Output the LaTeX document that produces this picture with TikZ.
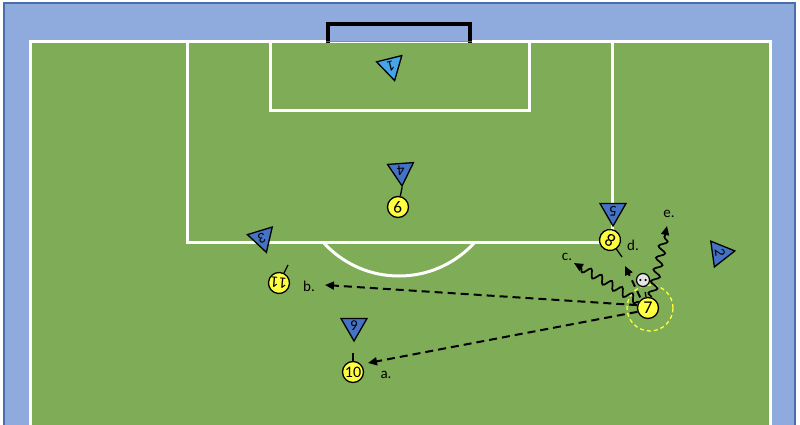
\documentclass[tikz,border=0pt]{standalone}
\usepackage{fontspec}
\setmainfont{Carlito}
\usetikzlibrary{shapes.geometric,arrows.meta,decorations.pathmorphing}
\definecolor{frameblue}{HTML}{8FAADC}
\definecolor{frameedge}{HTML}{4A6DB0}
\definecolor{pitchgreen}{HTML}{7FAC56}
\definecolor{defblue}{HTML}{4472C4}
\definecolor{keeperblue}{HTML}{45A5E6}
\definecolor{plyellow}{HTML}{FFFF40}
\begin{document}
\begin{tikzpicture}[x=1pt,y=-1pt,
  defender/.style={regular polygon, regular polygon sides=3, draw=black, line width=1.3pt, fill=defblue, minimum size=30pt, inner sep=0pt, font=\fontsize{15}{15}\selectfont},
  attacker/.style={circle, draw=black, line width=1.3pt, fill=plyellow, minimum size=21pt, inner sep=0pt, font=\fontsize{18}{18}\selectfont},
  stick/.style={line width=1.3pt},
  pass/.style={line width=2pt, dash pattern=on 8pt off 5pt, -{Triangle[length=9pt,width=8pt]}},
  dribble/.style={line width=1.7pt, decorate, decoration={snake, segment length=12pt, amplitude=4pt, post length=7pt}, -{Triangle[length=9pt,width=8pt]}},
  lbl/.style={font=\fontsize{15}{15}\selectfont, inner sep=0pt},
  pline/.style={draw=white, line width=3pt}
]
\useasboundingbox (0,0) rectangle (800,425);
% frame and pitch
\fill[white] (0,0) rectangle (800,425);
\filldraw[fill=frameblue, draw=frameedge, line width=1.5pt] (4,3) rectangle (795,440);
\fill[pitchgreen] (30,42) rectangle (770,440);
\draw[pline] (30,440) -- (30,42) -- (770,42) -- (770,440);
\draw[pline] (187,42) -- (187,242) -- (612,242) -- (612,42);
\draw[pline] (270,42) -- (270,111) -- (529,111) -- (529,42);
\begin{scope}
\clip (0,243.5) rectangle (800,425);
\draw[pline] (399,174) circle[radius=102pt];
\end{scope}
% goal
\fill[frameblue] (328,24) rectangle (470,42);
\draw[line width=4pt] (328,43) -- (328,24) -- (470,24) -- (470,43);
\draw[gray, line width=1.2pt, opacity=0.7] (326,41.5) -- (472,41.5);
% defenders
\node[defender, fill=keeperblue, rotate=-166] (t1) at (391,66) {1};
\node[defender, rotate=-176] (t4) at (401,171) {4};
\node[defender, rotate=-163] (t3) at (262,238) {3};
\node[defender, rotate=180] (t5) at (613,211) {5};
\node[defender, shape border rotate=180] (t9) at (354,326) {9};
\node[defender, rotate=-82] (t2) at (720,253) {2};
% attackers
\node[circle, draw=plyellow, line width=1.3pt, dash pattern=on 4pt off 3pt, minimum size=46pt] (ring) at (650,308) {};
\node[attacker, rotate=180] (p6) at (398,207) {9};
\node[attacker, rotate=175, font=\fontsize{16}{16}\selectfont] (p11) at (279,283) {11};
\node[attacker, font=\fontsize{16}{16}\selectfont] (p10) at (353,372) {10};
\node[attacker, rotate=150] (p8) at (610,240) {8};
\node[attacker] (p7) at (648,308) {7};
\node[circle, draw=black, line width=1.2pt, fill=gray!20, minimum size=13pt, inner sep=0pt] (ball) at (643,280) {};
\fill (ball.center) ++(-2.6,0) circle[radius=1.2pt];
\fill (ball.center) ++(2.6,0) circle[radius=1.2pt];
% sticks
\coordinate (s10) at (353,353);
\coordinate (s11) at (288,265);
\coordinate (s8) at (622,257);
\draw[stick] (p6) -- (t4.corner 1);
\draw[stick] (s10) -- (p10);
\draw[stick] (s11) -- (p11);
\draw[stick] (s8) -- (p8);
\draw[stick, shorten >=5pt] (p7) -- (ball);
% moves
\coordinate (ta) at (368,363);
\coordinate (tb) at (325,285);
\coordinate (tc) at (574,263);
\coordinate (td) at (625,266);
\coordinate (te) at (667,226);
\draw[pass] (p7.165) -- (tb);
\draw[pass] (p7.200) -- (ta);
\draw[pass, dash pattern=on 7pt off 5pt, shorten <=2pt] (p7.128) -- (td);
\draw[dribble] (p7.145) -- (tc);
\draw[dribble] (p7.72) -- (te);
% labels
\node[lbl] (la) at (386,375) {a.};
\node[lbl] (lb) at (309,286) {b.};
\node[lbl] (lc) at (567,257) {c.};
\node[lbl] (ld) at (633,245) {d.};
\node[lbl] (le) at (669,214) {e.};
\end{tikzpicture}
\end{document}
